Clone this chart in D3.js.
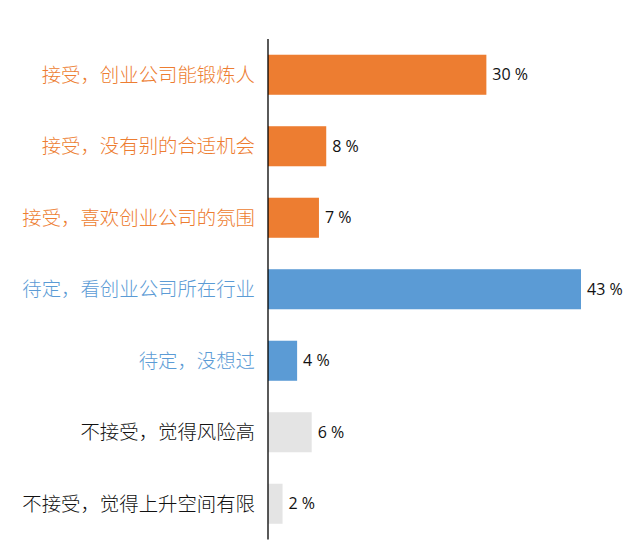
<!DOCTYPE html>
<html><head><meta charset="utf-8">
<script src="https://cdn.jsdelivr.net/npm/d3@7"></script>
<style>body{margin:0;background:#fff;}</style>
</head><body>
<svg id="c" width="644" height="553"></svg>
<script>
const categories = ["接受，创业公司能锻炼人","接受，没有别的合适机会","接受，喜欢创业公司的氛围","待定，看创业公司所在行业","待定，没想过","不接受，觉得风险高","不接受，觉得上升空间有限"];
const values = [30, 8, 7, 43, 4, 6, 2];
const groups = ["accept","accept","accept","pending","pending","reject","reject"];
const barColors = {accept:"#ED7D31", pending:"#5B9BD5", reject:"#E4E4E4"};
const textColors = {accept:"#ED7D31", pending:"#5B9BD5", reject:"#111111"};

const svg = d3.select("#c");
const x0 = 268;
const x = d3.scaleLinear().domain([0, 43]).range([x0, 581]);
const y = d3.scaleBand().domain(categories).range([39, 539.5]).paddingInner(0.44).paddingOuter(0.22);

svg.selectAll("rect.bar").data(categories).enter().append("rect")
  .attr("x", x(0)).attr("y", d => y(d))
  .attr("width", (d,i) => x(values[i]) - x(0))
  .attr("height", y.bandwidth())
  .attr("fill", (d,i) => barColors[groups[i]]);

svg.selectAll("text.cat").data(categories).enter().append("text")
  .attr("x", 255).attr("y", d => y(d) + y.bandwidth()/2)
  .attr("dy", "0.35em").attr("text-anchor", "end")
  .style("font-family", "'Noto Sans CJK SC', sans-serif").style("font-size", "19.4px")
  .style("font-weight", 300)
  .attr("fill", (d,i) => textColors[groups[i]])
  .text(d => d);

svg.selectAll("text.val").data(categories).enter().append("text")
  .attr("x", (d,i) => x(values[i]) + 6).attr("y", d => y(d) + y.bandwidth()/2)
  .attr("dy", "0.35em")
  .style("font-family", "'Open Sans', sans-serif").style("font-size", "16px")
  .attr("fill", "#111")
  .text((d,i) => values[i] + " %");

const axis = d3.axisLeft(y).tickSize(0).tickFormat("");
const g = svg.append("g").attr("transform", `translate(${x0},0)`).call(axis);
g.select(".domain").attr("stroke", "#000").attr("stroke-width", 1.3).attr("d", "M0,39V539.5");
</script>
</body></html>
